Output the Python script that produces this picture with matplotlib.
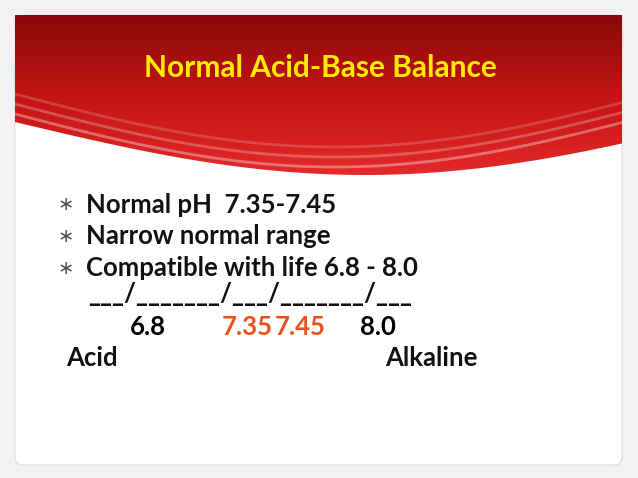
import numpy as np
import matplotlib.pyplot as plt
from matplotlib.patches import FancyBboxPatch, Polygon
from matplotlib.colors import LinearSegmentedColormap

title = "Normal Acid-Base Balance"
bullets = ["Normal pH  7.35-7.45", "Narrow normal range", "Compatible with life 6.8 - 8.0"]
scale_line = "___/_______/___/_______/___"
tick_labels = ["6.8", "7.35", "7.45", "8.0"]
tick_colors = ["black", "#e8501e", "#e8501e", "black"]
tick_x = [130, 222, 275, 360]

fig = plt.figure(figsize=(6.38, 4.78), dpi=100)
ax = fig.add_axes([0, 0, 1, 1])
ax.set_xlim(0, 638); ax.set_ylim(478, 0); ax.axis('off')
fig.patch.set_facecolor('#f2f2f2')

bg = FancyBboxPatch((15, 15), 607, 450, boxstyle="round,pad=0,rounding_size=8",
                    fc='white', ec='#dddddd', lw=0.8)
ax.add_patch(bg)

xs = np.linspace(15, 622, 200)
bottom = 122 + 53 * np.sin(np.pi * (xs - 15) / 700)
verts = [(15, 15), (622, 15)] + list(zip(xs[::-1], bottom[::-1]))
poly = Polygon(verts, closed=True, fc='none', ec='none')
ax.add_patch(poly)
grad = np.linspace(0, 1, 256).reshape(-1, 1)
cmap = LinearSegmentedColormap.from_list('r', ['#8a0a0a', '#c41414', '#e62b2b'])
im = ax.imshow(grad, extent=(15, 622, 180, 15), cmap=cmap, aspect='auto', zorder=1)
im.set_clip_path(poly)
for off, a in [(-8, 0.35), (-18, 0.25), (-28, 0.18)]:
    ys = 122 + off + 53 * np.sin(np.pi * (xs - 15) / 640)
    ax.plot(xs, ys, color='white', alpha=a, lw=2, zorder=2)

ax.text(320, 68, title, color='#ffeb00', fontsize=21.5, fontweight='bold',
        family='Lato', ha='center', va='center', zorder=3)

ys_b = [205, 236, 268]
for y, t in zip(ys_b, bullets):
    ax.text(66, y, "∗", fontsize=14, color='#555555', ha='center', va='center', family='DejaVu Sans')
    ax.text(86, y, t, fontsize=18.5, fontweight='bold', family='Lato', va='center', color='#111111')

ax.text(88, 294, scale_line, fontsize=18.5, fontweight='bold', family='Lato', va='center', color='#111111')
for x, lab, c in zip(tick_x, tick_labels, tick_colors):
    ax.text(x, 327, lab, fontsize=18.5, fontweight='bold', family='Lato', va='center', color=c)
ax.text(66, 358, "Acid", fontsize=18.5, fontweight='bold', family='Lato', va='center', color='#111111')
ax.text(385, 358, "Alkaline", fontsize=18.5, fontweight='bold', family='Lato', va='center', color='#111111')

fig.savefig('out.png', dpi=100, facecolor=fig.get_facecolor())
